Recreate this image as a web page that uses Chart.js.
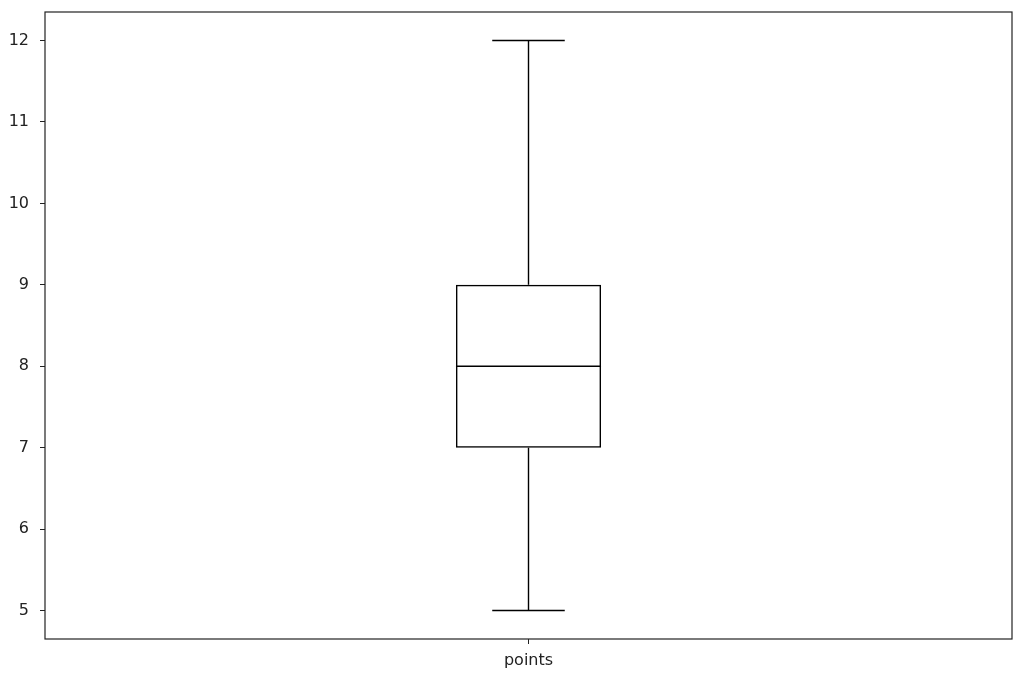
<!DOCTYPE html>
<html>
<head>
<meta charset="utf-8">
<script src="https://cdn.jsdelivr.net/npm/chart.js@4/dist/chart.umd.min.js"></script>
<style>
  html, body { margin: 0; padding: 0; background: #fff; }
  #wrap { width: 1024px; height: 676px; }
</style>
</head>
<body>
<div id="wrap"><canvas id="chart"></canvas></div>
<script>
// box plot statistics
const labels = ['points'];
const whiskerLow = [5];
const q1 = [7];
const median = [8];
const q3 = [9];
const whiskerHigh = [12];
const yTicks = [5, 6, 7, 8, 9, 10, 11, 12];

const boxWidth = 0.15;   // share of the category, like matplotlib's default
const capShare = 0.5;    // caps are half the box width

// medians, whiskers and caps, drawn through the chart's scales
const boxExtras = {
    id: 'boxExtras',
    afterDatasetsDraw(chart) {
        const { ctx, scales: { x, y } } = chart;
        const catW = x.width / labels.length;
        ctx.save();
        ctx.strokeStyle = '#000';
        ctx.lineWidth = 1.4;
        labels.forEach((l, i) => {
            const cx = x.getPixelForValue(i);
            const half = catW * boxWidth / 2;
            const cap = half * capShare;
            const line = (x1, y1, x2, y2) => {
                ctx.beginPath();
                ctx.moveTo(x1, y1);
                ctx.lineTo(x2, y2);
                ctx.stroke();
            };
            // median
            line(cx - half, y.getPixelForValue(median[i]), cx + half, y.getPixelForValue(median[i]));
            // whiskers
            line(cx, y.getPixelForValue(q3[i]), cx, y.getPixelForValue(whiskerHigh[i]));
            line(cx, y.getPixelForValue(q1[i]), cx, y.getPixelForValue(whiskerLow[i]));
            // caps
            line(cx - cap, y.getPixelForValue(whiskerHigh[i]), cx + cap, y.getPixelForValue(whiskerHigh[i]));
            line(cx - cap, y.getPixelForValue(whiskerLow[i]), cx + cap, y.getPixelForValue(whiskerLow[i]));
        });
        // axes frame
        const a = chart.chartArea;
        ctx.strokeStyle = '#222';
        ctx.lineWidth = 1.2;
        ctx.strokeRect(a.left, a.top, a.right - a.left, a.bottom - a.top);
        ctx.restore();
    }
};

Chart.defaults.font.family = '"DejaVu Sans", sans-serif';
Chart.defaults.font.size = 16;
Chart.defaults.color = '#222';

new Chart(document.getElementById('chart'), {
    type: 'bar',
    data: {
        labels: labels,
        datasets: [{
            data: labels.map((l, i) => [q1[i], q3[i]]),
            backgroundColor: 'rgba(0,0,0,0)',
            borderColor: '#000',
            borderWidth: 1.4,
            borderSkipped: false,
            barPercentage: boxWidth,
            categoryPercentage: 1
        }]
    },
    options: {
        responsive: true,
        maintainAspectRatio: false,
        animation: false,
        layout: { padding: { top: 12, right: 12, left: 0, bottom: 0 } },
        plugins: {
            legend: { display: false },
            tooltip: { enabled: false }
        },
        scales: {
            x: {
                offset: true,
                grid: { display: true, offset: false, drawOnChartArea: false, drawTicks: true, tickLength: 5, color: '#222' },
                border: { display: false },
                ticks: { padding: 7, color: '#222' },
                afterFit(s) { s.height = 37; s.paddingLeft = 0; s.paddingRight = 0; }
            },
            y: {
                min: 4.65,
                max: 12.35,
                grid: { display: true, drawOnChartArea: false, drawTicks: true, tickLength: 5, color: '#222' },
                border: { display: false },
                ticks: { padding: 11, color: '#222' },
                afterBuildTicks(s) { s.ticks = yTicks.map(v => ({ value: v })); },
                afterFit(s) { s.width = 45; s.paddingTop = 0; s.paddingBottom = 0; }
            }
        }
    },
    plugins: [boxExtras]
});
</script>
</body>
</html>
